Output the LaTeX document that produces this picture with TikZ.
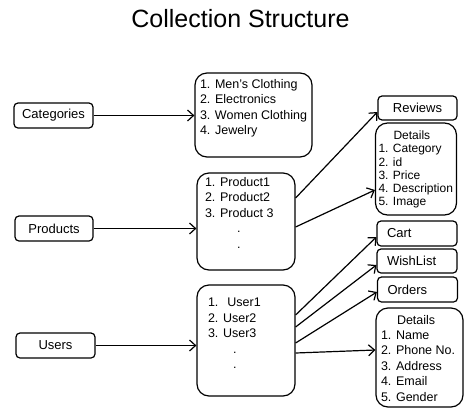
\documentclass[tikz,border=0pt]{standalone}
\usepackage{fontspec}
\setmainfont{Liberation Sans}
\usetikzlibrary{positioning,arrows.meta}
\newcommand{\itemlist}[3]{\parbox[t][#2][t]{#1}{\raggedright #3}}

\begin{document}
\begin{tikzpicture}[x=1pt,y=-1pt,line width=1.2pt,
    namebox/.style={draw, rounded corners=4pt, inner sep=0pt, minimum height=25pt, font=\fontsize{13}{15}\selectfont},
    leftbox/.style={namebox, text width=60pt, align=left, inner xsep=10pt},
    listbox/.style={draw, rounded corners=12pt, font=\fontsize{12.5}{15.5}\selectfont},
    link/.style={-{Straight Barb[length=6pt,width=11pt]}}]
\useasboundingbox (0,0) rectangle (474,413);
\node[font=\fontsize{25}{30}\selectfont] (title) at (240.5,18.5) {Collection Structure};

\node[namebox, minimum width=79pt] (categories) at (53.5,115.5) {Categories};
\node[namebox, minimum width=78pt] (products) at (54,228.5) {Products};
\node[namebox, minimum width=79pt] (users) at (55.5,345.5) {Users};

\node[listbox, inner xsep=5pt, inner ysep=6pt] (catlist) at (253.5,115) {\itemlist{107pt}{72pt}{1. Men's Clothing\\2. Electronics\\3. Women Clothing\\4. Jewelry}};
\node[listbox, inner xsep=8pt, inner ysep=4pt] (prodlist) at (246,221.5) {\itemlist{82pt}{89pt}{1. Product1\\2. Product2\\3. Product 3\\\hspace*{32pt}.\\\hspace*{32pt}.}};
\node[listbox, inner xsep=11pt, inner ysep=13pt] (userlist) at (246,340.5) {\itemlist{76pt}{85pt}{1.\hspace*{9pt}User1\\2. User2\\3. User3\\\hspace*{25pt}.\\\hspace*{25pt}.}};

\node[namebox, minimum width=79pt, minimum height=24pt] (reviews) at (417.5,108) {Reviews};
\node[listbox, inner xsep=3pt, inner ysep=8pt, font=\fontsize{12}{13.2}\selectfont] (proddetails) at (416,169) {\itemlist{75pt}{76pt}{\hspace*{15pt}Details\\1. Category\\2. id\\3. Price\\4. Description\\5. Image}};
\node[leftbox] (cart) at (417,233.5) {Cart};
\node[leftbox, minimum height=24pt] (wishlist) at (417,261) {WishList};
\node[leftbox] (orders) at (417.5,289.5) {Orders};
\node[listbox, inner xsep=5pt, inner ysep=7pt, font=\fontsize{12.5}{15.4}\selectfont] (userdetails) at (419.5,357.5) {\itemlist{77pt}{85pt}{\hspace*{16pt}Details\\1. Name\\2. Phone No.\\3. Address\\4. Email\\5. Gender}};

\draw[link] (categories.east) -- (categories.east -| catlist.west);
\draw[link] (products.east) -- (products.east -| prodlist.west);
\draw[link] (users.east) -- (users.east -| userlist.west);

\draw[link] ([yshift=23.5pt]prodlist.east) -- ([yshift=-4pt]reviews.west);
\draw[link] ([yshift=-5.5pt]prodlist.east) -- ([yshift=-21pt]proddetails.west);

\draw[link] ([yshift=25.5pt]userlist.east) -- ([yshift=-3.5pt]cart.west);
\draw[link] ([yshift=13.5pt]userlist.east) -- ([yshift=-4pt]wishlist.west);
\draw[link] ([yshift=-2.5pt]userlist.east) -- ([yshift=-2.5pt]orders.west);
\draw[link] ([yshift=-12.5pt]userlist.east) -- ([yshift=7.5pt]userdetails.west);
\end{tikzpicture}
\end{document}
